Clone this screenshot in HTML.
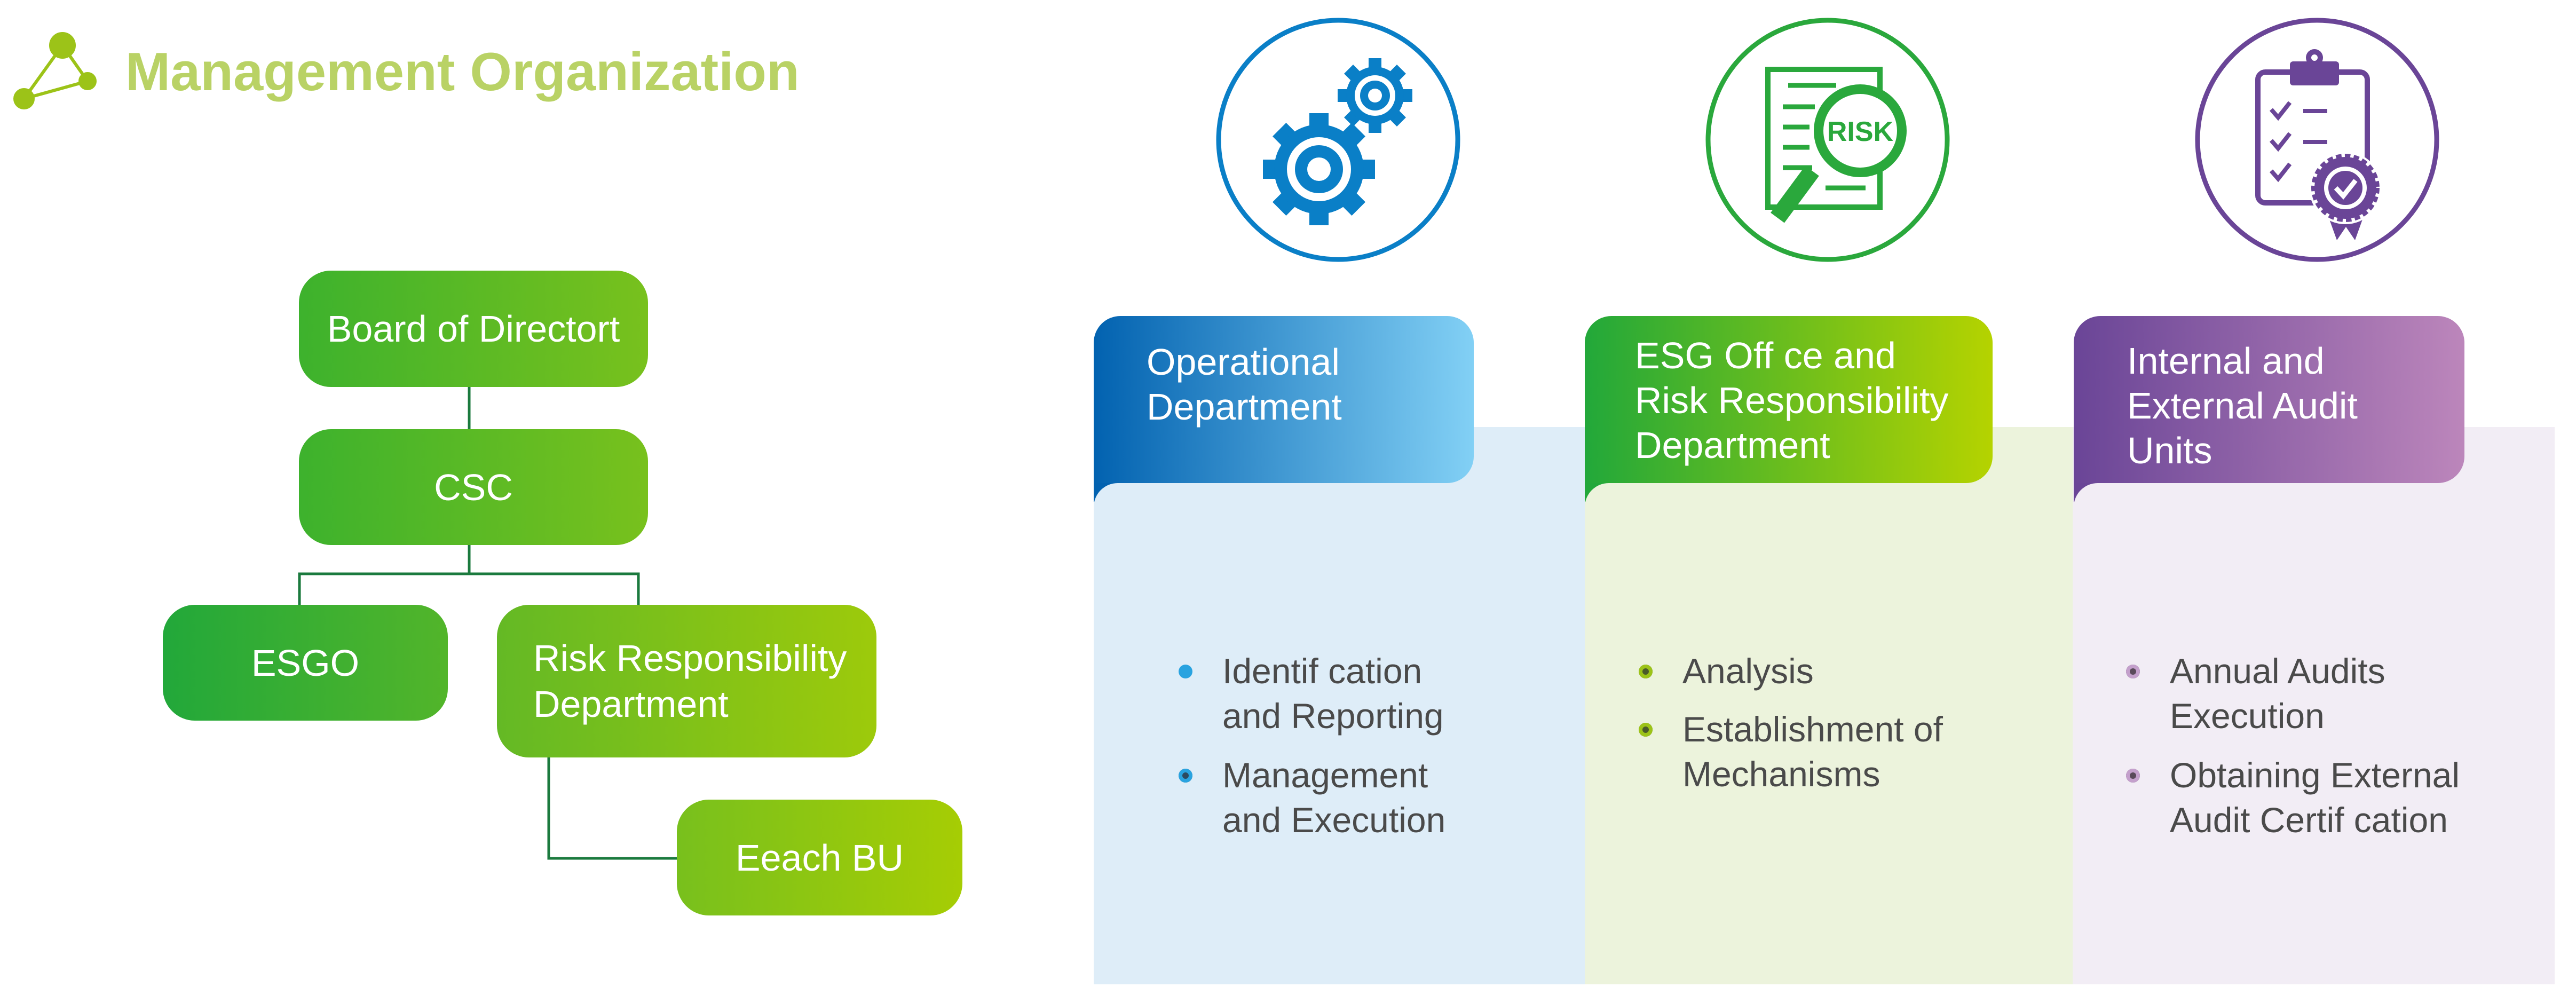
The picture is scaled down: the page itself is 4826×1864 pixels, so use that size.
<!DOCTYPE html>
<html><head><meta charset="utf-8"><style>
body{margin:0;width:4826px;height:1864px;background:#fff;position:relative;overflow:hidden;font-family:"Liberation Sans",sans-serif}
.a{position:absolute}
.node{position:absolute;border-radius:60px;color:#fff;font-size:70px;display:flex;align-items:center;justify-content:center}
.tab{position:absolute;top:592px;height:313px;border-radius:50px 50px 50px 0;color:#fff;font-family:"Liberation Sans Narrow","Liberation Sans",sans-serif;font-size:70px;line-height:84px}
.pt{position:absolute;font-family:"Liberation Sans Narrow","Liberation Sans",sans-serif;font-size:66px;line-height:84px;color:#4a4a4a}
.dot{position:absolute;width:26px;height:26px;border-radius:50%}
</style></head><body>
<div class="a" style="left:2049px;top:800px;width:920px;height:1044px;background:#deedf8"></div>
<div class="a" style="left:2969px;top:800px;width:914px;height:1044px;background:#ecf3dc"></div>
<div class="a" style="left:3883px;top:800px;width:903px;height:1044px;background:#f2edf5"></div>

<svg class="a" style="left:0;top:0" width="4826" height="1864" viewBox="0 0 4826 1864">
<g fill="#9cc318" stroke="#9cc318" stroke-width="6">
<line x1="117" y1="85" x2="45" y2="185"/><line x1="45" y1="185" x2="164" y2="152"/><line x1="117" y1="85" x2="164" y2="152"/>
<circle cx="117" cy="85" r="22"/><circle cx="45" cy="185" r="17"/><circle cx="164" cy="152" r="14"/>
</g>
<g transform="translate(-6,-12)">
<g fill="none" stroke="#1b7a3e" stroke-width="5">
<line x1="885" y1="737" x2="885" y2="816"/>
<polyline points="567,1145 567,1087 1202,1087 1202,1145"/>
<line x1="885" y1="1033" x2="885" y2="1087"/>
<polyline points="1034,1431 1034,1620 1274,1620"/>
</g></g>
<circle cx="2507" cy="262" r="224" fill="#fff" stroke="#0a7fc7" stroke-width="9"/>
<circle cx="3424" cy="262" r="224" fill="#fff" stroke="#2aa83c" stroke-width="9"/>
<circle cx="4341" cy="262" r="224" fill="#fff" stroke="#6a4597" stroke-width="9"/>
<g transform="translate(2471,317)" fill="#0a7fc7">
<rect x="-18" y="-105" width="36" height="40"/><rect x="-18" y="-105" width="36" height="40" transform="rotate(45)"/><rect x="-18" y="-105" width="36" height="40" transform="rotate(90)"/><rect x="-18" y="-105" width="36" height="40" transform="rotate(135)"/><rect x="-18" y="-105" width="36" height="40" transform="rotate(180)"/><rect x="-18" y="-105" width="36" height="40" transform="rotate(225)"/><rect x="-18" y="-105" width="36" height="40" transform="rotate(270)"/><rect x="-18" y="-105" width="36" height="40" transform="rotate(315)"/>
<circle r="84"/><circle r="60" fill="#fff"/><circle r="45"/><circle r="22" fill="#fff"/></g>
<g transform="translate(2576,179)" fill="#0a7fc7">
<rect x="-12" y="-70" width="24" height="28"/><rect x="-12" y="-70" width="24" height="28" transform="rotate(45)"/><rect x="-12" y="-70" width="24" height="28" transform="rotate(90)"/><rect x="-12" y="-70" width="24" height="28" transform="rotate(135)"/><rect x="-12" y="-70" width="24" height="28" transform="rotate(180)"/><rect x="-12" y="-70" width="24" height="28" transform="rotate(225)"/><rect x="-12" y="-70" width="24" height="28" transform="rotate(270)"/><rect x="-12" y="-70" width="24" height="28" transform="rotate(315)"/>
<circle r="54"/><circle r="38" fill="#fff"/><circle r="28"/><circle r="13" fill="#fff"/></g>
<g stroke="#2aa83c" fill="none" stroke-width="10">
<rect x="3312" y="130" width="210" height="258"/>
<g stroke-width="9"><line x1="3350" y1="160" x2="3440" y2="160"/><line x1="3340" y1="200" x2="3400" y2="200"/><line x1="3340" y1="238" x2="3390" y2="238"/><line x1="3340" y1="276" x2="3390" y2="276"/><line x1="3340" y1="314" x2="3395" y2="314"/><line x1="3420" y1="352" x2="3495" y2="352"/></g>
</g>
<line x1="3395" y1="320" x2="3330" y2="408" stroke="#2aa83c" stroke-width="32"/>
<circle cx="3485" cy="245" r="78" fill="#fff" stroke="#2aa83c" stroke-width="18"/>
<text x="3485" y="264" text-anchor="middle" font-family="Liberation Sans" font-weight="bold" font-size="52" fill="#2aa83c">RISK</text>
<g stroke="#6a4597" fill="none" stroke-width="10">
<rect x="4230" y="135" width="205" height="245" rx="14"/>
<g stroke-width="8"><polyline points="4255,205 4268,220 4290,192"/><polyline points="4255,263 4268,278 4290,250"/><polyline points="4255,320 4268,335 4290,307"/><line x1="4315" y1="208" x2="4360" y2="208"/><line x1="4315" y1="266" x2="4360" y2="266"/></g>
</g>
<rect x="4290" y="115" width="92" height="45" rx="6" fill="#6a4597"/><circle cx="4336" cy="108" r="16" fill="#6a4597"/><circle cx="4336" cy="108" r="6" fill="#fff"/>
<polygon points="4360,400 4378,450 4395,425 4412,450 4430,400" fill="#6a4597"/>
<circle cx="4394" cy="352" r="68" fill="#fff"/>
<circle cx="4394" cy="352" r="58" fill="#6a4597" stroke="#6a4597" stroke-width="12" stroke-dasharray="10 6"/>
<circle cx="4394" cy="352" r="40" fill="#fff"/><circle cx="4394" cy="352" r="32" fill="#6a4597"/>
<polyline points="4376,352 4390,367 4413,338" fill="none" stroke="#fff" stroke-width="9"/>
</svg>

<div class="a" style="left:235px;top:78px;font-size:101px;font-weight:bold;color:#b9d265;white-space:nowrap">Management Organization</div>

<div class="node" style="left:560px;top:507px;width:654px;height:218px;background:linear-gradient(90deg,#3db22d,#78c11d)">Board of Directort</div>
<div class="node" style="left:560px;top:804px;width:654px;height:217px;background:linear-gradient(90deg,#3db22d,#78c11d)">CSC</div>
<div class="node" style="left:305px;top:1133px;width:534px;height:217px;background:linear-gradient(90deg,#22a83a,#52b52a)">ESGO</div>
<div class="node" style="left:931px;top:1133px;width:711px;height:286px;background:linear-gradient(90deg,#64b925,#9dca0b);justify-content:flex-start;line-height:86px;padding-left:68px;box-sizing:border-box">Risk Responsibility<br>Department</div>
<div class="node" style="left:1268px;top:1498px;width:535px;height:217px;background:linear-gradient(90deg,#78c01d,#a6cd04)">Eeach BU</div>

<div class="a" style="left:2049px;top:880px;width:60px;height:60px;background:#0262b0"></div>
<div class="a" style="left:2049px;top:905px;width:140px;height:60px;background:#deedf8;border-top-left-radius:45px"></div>
<div class="a" style="left:2969px;top:880px;width:60px;height:60px;background:#22a83a"></div>
<div class="a" style="left:2969px;top:905px;width:140px;height:60px;background:#ecf3dc;border-top-left-radius:45px"></div>
<div class="a" style="left:3885px;top:880px;width:60px;height:60px;background:#6a4597"></div>
<div class="a" style="left:3885px;top:905px;width:140px;height:60px;background:#f2edf5;border-top-left-radius:45px"></div>

<div class="tab" style="left:2049px;width:712px;background:linear-gradient(90deg,#0262b0,#82d0f5)"><div class="a" style="left:99px;top:44px;white-space:nowrap">Operational<br>Department</div></div>
<div class="tab" style="left:2969px;width:764px;background:linear-gradient(90deg,#22a83a,#b5d300)"><div class="a" style="left:94px;top:32px;white-space:nowrap">ESG Off ce and<br>Risk Responsibility<br>Department</div></div>
<div class="tab" style="left:3885px;width:732px;background:linear-gradient(90deg,#6a4597,#bc86bb)"><div class="a" style="left:100px;top:42px;white-space:nowrap">Internal and<br>External Audit<br>Units</div></div>

<div class="dot" style="left:2208px;top:1245px;background:#29a3e0"></div>
<div class="dot" style="left:2208px;top:1440px;background:#2c4a60;box-shadow:inset 0 0 0 7px #29a3e0"></div>
<div class="pt" style="left:2290px;top:1215px">Identif cation<br>and Reporting</div>
<div class="pt" style="left:2290px;top:1410px">Management<br>and Execution</div>

<div class="dot" style="left:3070px;top:1245px;background:#4a5a2a;box-shadow:inset 0 0 0 7px #9cc318"></div>
<div class="dot" style="left:3070px;top:1354px;background:#4a5a2a;box-shadow:inset 0 0 0 7px #9cc318"></div>
<div class="pt" style="left:3152px;top:1215px">Analysis</div>
<div class="pt" style="left:3152px;top:1324px">Establishment of<br>Mechanisms</div>

<div class="dot" style="left:3983px;top:1245px;background:#5a4a5a;box-shadow:inset 0 0 0 7px #c4a0cc"></div>
<div class="dot" style="left:3983px;top:1440px;background:#5a4a5a;box-shadow:inset 0 0 0 7px #c4a0cc"></div>
<div class="pt" style="left:4065px;top:1215px">Annual Audits<br>Execution</div>
<div class="pt" style="left:4065px;top:1410px">Obtaining External<br>Audit Certif cation</div>
</body></html>
